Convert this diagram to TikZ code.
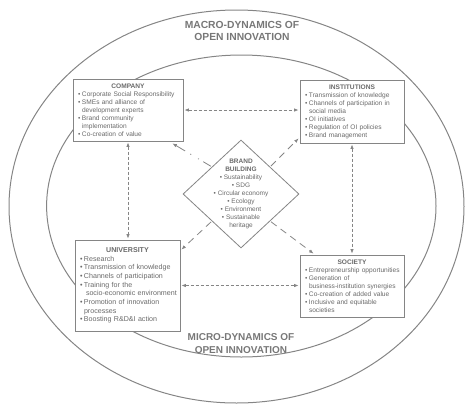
\documentclass[tikz,border=0pt]{standalone}
\usepackage{fontspec}
\setmainfont{Liberation Sans}
\usetikzlibrary{shapes.geometric,arrows.meta,calc}
\definecolor{ln}{HTML}{858585}
\definecolor{tx}{HTML}{6A6A6A}
\definecolor{tt}{HTML}{777777}
\newcommand\bl{\makebox[4pt][l]{•}}
\newcommand\ind{\hspace*{4pt}}
\newcommand\hd[1]{\makebox[\linewidth][c]{\bfseries #1}}
\begin{document}
\begin{tikzpicture}[x=1pt,y=-1pt,
  box/.style={draw=ln, line width=0.8pt, fill=white, rectangle, inner xsep=5pt, inner ysep=0pt, align=left, text=tx, font=\fontsize{6.6}{8}\selectfont},
  ttl/.style={align=center, text=tt, font=\fontsize{10.3}{12}\selectfont\bfseries},
  tip/.style={Latex[length=4.5pt,width=3.5pt]},
  arr/.style={draw=ln, line width=0.8pt, dash pattern=on 3pt off 2pt, {Latex[length=4.5pt,width=3.5pt]}-{Latex[length=4.5pt,width=3.5pt]}, shorten <=1pt, shorten >=1pt},
  diag/.style={draw=ln, line width=0.8pt, dash pattern=on 7pt off 5pt, -{Latex[length=4.5pt,width=3.5pt]}}
]
\useasboundingbox (0,0) rectangle (474,413);
\draw[ln, line width=1pt] (236.5,206.5) ellipse [x radius=227.5pt, y radius=196.5pt];
\draw[ln, line width=1pt] (241.3,206) ellipse [x radius=194.7pt, y radius=151pt];

\node[ttl] (macro) at (242,30.5) {MACRO-DYNAMICS OF\\OPEN INNOVATION};
\node[ttl, font=\fontsize{10}{12.3}\selectfont\bfseries] (micro) at (241,343.5) {MICRO-DYNAMICS OF\\OPEN INNOVATION};

\node[box, minimum width=110pt, minimum height=62pt, text width=100pt] (company) at (128,110) {%
\hd{COMPANY}\\
\mbox{\bl Corporate Social Responsibility}\\
\mbox{\bl SMEs and alliance of}\\
\mbox{\ind development experts}\\
\mbox{\bl Brand community}\\
\mbox{\ind implementation}\\
\mbox{\bl Co-creation of value}};

\node[box, minimum width=104pt, minimum height=63pt, text width=94pt] (institutions) at (352,111.5) {%
\hd{INSTITUTIONS}\\
\mbox{\bl Transmission of knowledge}\\
\mbox{\bl Channels of participation in}\\
\mbox{\ind social media}\\
\mbox{\bl OI initiatives}\\
\mbox{\bl Regulation of OI policies}\\
\mbox{\bl Brand management}};

\node[box, minimum width=105pt, minimum height=91pt, text width=95pt, font=\fontsize{7.1}{8.67}\selectfont] (university) at (127.5,285.5) {%
\hd{UNIVERSITY}\\
\mbox{\bl Research}\\
\mbox{\bl Transmission of knowledge}\\
\mbox{\bl Channels of participation}\\
\mbox{\bl Training for the}\\
\mbox{\ind\hspace*{2pt}socio-economic environment}\\
\mbox{\bl Promotion of innovation}\\
\mbox{\ind processes}\\
\mbox{\bl Boosting R\&D\&I action}};

\node[box, minimum width=104pt, minimum height=62pt, text width=94pt] (society) at (352,286) {%
\hd{SOCIETY}\\
\mbox{\bl Entrepreneurship opportunities}\\
\mbox{\bl Generation of}\\
\mbox{\ind business-institution synergies}\\
\mbox{\bl Co-creation of added value}\\
\mbox{\bl Inclusive and equitable}\\
\mbox{\ind societies}};

\node[diamond, draw=ln, line width=0.8pt, fill=white, minimum width=116pt, minimum height=108pt, inner sep=0pt] (brand) at (241,194) {};
\node[align=center, text=tx, font=\fontsize{6.5}{8}\selectfont, inner sep=0pt] (brandtxt) at (brand.center) {%
\textbf{BRAND}\\ \textbf{BUILDING}\\ • Sustainability\\ • SDG\\ • Circular economy\\ • Ecology\\ • Environment\\ • Sustainable\\ heritage};

% dashed two-way connectors
\draw[arr] (company.east) -- (company.east -| institutions.west);
\draw[arr] (company.south) -- (company.south |- university.north);
\draw[arr] (institutions.south) -- (institutions.south |- society.north);
\draw[arr] (university.east) -- (university.east -| society.west);

% diagonal connectors from the diamond
\coordinate (tc) at ($(company.south east)+(-11,2)$);
\coordinate (ti) at ($(institutions.south west)+(-1,-5)$);
\coordinate (tu) at ($(university.north east)+(1,10)$);
\coordinate (ts) at ($(society.north west)+(14,-1)$);
\draw[diag, dash pattern=on 9pt off 5pt on 1pt off 8pt on 1pt off 6pt on 20pt, shorten <=1pt] (brand.north west) -- (tc);
\draw[diag, shorten <=1pt] (brand.north east) -- (ti);
\draw[diag, shorten <=1pt] (brand.south west) -- (tu);
\draw[diag, shorten <=1pt] (brand.south east) -- (ts);
\end{tikzpicture}
\end{document}
